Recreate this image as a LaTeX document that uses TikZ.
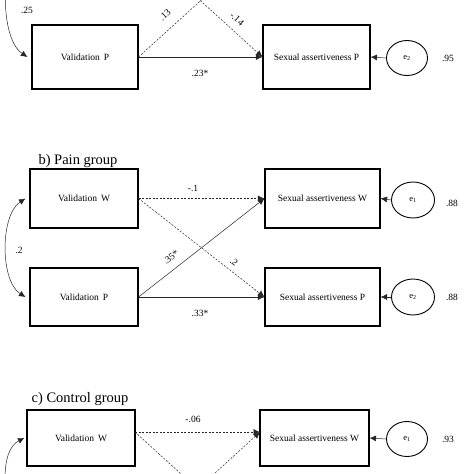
\documentclass[tikz,border=0pt]{standalone}
\usepackage{fontspec}
\setmainfont{Liberation Serif}
\usetikzlibrary{arrows.meta,shapes.geometric}
\begin{document}
\begin{tikzpicture}[x=1pt,y=-1pt,
  box/.style={draw,line width=1.1pt,rectangle,inner sep=0pt,font=\fontsize{9.5}{11}\selectfont},
  err/.style={draw,ellipse,line width=0.9pt,minimum width=41pt,minimum height=35pt,inner sep=0pt,font=\fontsize{8.5}{9}\selectfont},
  lbl/.style={font=\fontsize{9.5}{11}\selectfont,inner sep=1pt},
  ttl/.style={font=\fontsize{14.5}{16}\selectfont,inner sep=0pt},
  conn/.style={line width=0.5pt,draw=black!85,-{Latex[length=6.5pt,width=6pt]}},
  dconn/.style={conn,dash pattern=on 2pt off 1.5pt},
  cov/.style={line width=0.5pt,draw=black!85,{Latex[length=6.5pt,width=6pt]}-{Latex[length=6.5pt,width=6pt]}}
]
\useasboundingbox (0,0) rectangle (474,474);
\clip (0,0) rectangle (474,474);

% ---------- a) (partly cut off) ----------
\coordinate (VWa) at (138,-56);
\coordinate (VWaW) at (26,-56);
\coordinate (SAWa) at (263,-56);
\node[box,minimum width=106pt,minimum height=64pt] (VPa) at (85,57) {Validation\ \,P};
\node[box,minimum width=107pt,minimum height=64pt] (SAPa) at (316.5,57) {Sexual assertiveness P};
\node[err] (e2a) at (407,58) {e\textsubscript{2}};
\node[lbl] (r2a) at (448,58) {.95};
\draw[conn] (VPa.east) -- (SAPa.west);
\draw[dconn] (VPa.east) -- (SAWa);
\draw[dconn] (VWa) -- (SAPa.west);
\draw[conn] (e2a.west) -- (SAPa.east);
\draw[cov] (VWaW) .. controls (0,-38) and (0,39) .. ([xshift=-4pt]VPa.west);
\node[lbl] (la1) at (200,73) {.23*};
\node[lbl,rotate=42] (la2) at (165,15) {.13};
\node[lbl,rotate=-42] (la3) at (237,19) {-.14};
\node[lbl] (la4) at (27,10) {.25};

% ---------- b) Pain group ----------
\node[ttl] (tb) at (78,161) {b) Pain group};
\node[box,minimum width=108pt,minimum height=59pt] (VWb) at (84,198.5) {Validation\ \,W};
\node[box,minimum width=108pt,minimum height=58pt] (VPb) at (84,297) {Validation\ \,P};
\node[box,minimum width=115pt,minimum height=59pt] (SAWb) at (322.5,198.5) {Sexual assertiveness W};
\node[box,minimum width=115pt,minimum height=58pt] (SAPb) at (322.5,297) {Sexual assertiveness P};
\node[err,minimum width=43pt,minimum height=36pt] (e1b) at (413,200) {e\textsubscript{1}};
\node[err,minimum width=43pt,minimum height=36pt] (e2b) at (413,297) {e\textsubscript{2}};
\node[lbl] (r1b) at (452,203) {.88};
\node[lbl] (r2b) at (452,297) {.88};
\draw[dconn] (VWb.east) -- (SAWb.west);
\draw[dconn] (VWb.east) -- (SAPb.west);
\draw[conn] (VPb.east) -- (SAWb.west);
\draw[conn] (VPb.east) -- (SAPb.west);
\draw[conn] (e1b.west) -- (SAWb.east);
\draw[conn] (e2b.west) -- (SAPb.east);
\draw[cov] ([xshift=-4pt]VWb.west) .. controls (0,215) and (0,281) .. ([xshift=-4pt]VPb.west);
\node[lbl] (lb1) at (193,188) {-.1};
\node[lbl,rotate=-38] (lb2) at (234,262) {.2};
\node[lbl,rotate=38] (lb3) at (171,257) {.35*};
\node[lbl] (lb4) at (200,313) {.33*};
\node[lbl] (lb5) at (19,250) {.2};

% ---------- c) Control group ----------
\node[ttl] (tc) at (80,399) {c) Control group};
\node[box,minimum width=108pt,minimum height=56pt] (VWc) at (81,438) {Validation\ \,W};
\node[box,minimum width=109pt,minimum height=56pt] (SAWc) at (314.5,438) {Sexual assertiveness W};
\node[err] (e1c) at (407,439) {e\textsubscript{1}};
\node[lbl] (r1c) at (448,439) {.93};
\coordinate (VWcE) at (135,432);
\coordinate (SAWcW) at (260,432);
\coordinate (VPcE) at (135,546);
\coordinate (VPcW) at (25,546);
\coordinate (SAPcW) at (260,546);
\draw[dconn] (VWcE) -- (SAWcW);
\draw[dconn] (VWcE) -- (SAPcW);
\draw[dconn] (VPcE) -- (SAWcW);
\draw[conn] (e1c.west) -- (SAWc.east);
\draw[cov] (VPcW) .. controls (0,500) and (0,450) .. ([xshift=-2pt]VWc.west);
\node[lbl] (lc1) at (193,419) {-.06};
\end{tikzpicture}
\end{document}
